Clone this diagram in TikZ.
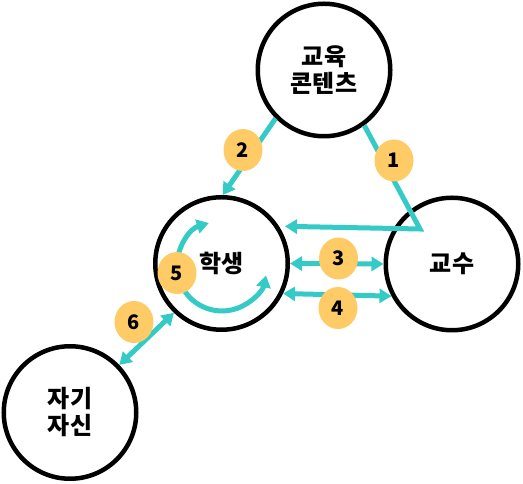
\documentclass[tikz,border=0pt]{standalone}
\usepackage{fontspec}
\setmainfont{Noto Sans CJK KR}
\usetikzlibrary{shapes.geometric, arrows.meta, positioning, calc}
\definecolor{linkteal}{RGB}{52,202,198}
\definecolor{badgeorange}{RGB}{255,203,102}

\begin{document}
\begin{tikzpicture}[x=1bp, y=1bp,
  every node/.style={font=\bfseries\fontsize{24bp}{27bp}\selectfont},
  bubble/.style={draw, circle, line width=4.5bp, minimum size=132.5bp, inner sep=0pt, align=center},
  badge/.style={ellipse, fill=badgeorange, minimum width=39bp, minimum height=42bp, inner sep=0pt, font=\bfseries\fontsize{20bp}{20bp}\selectfont},
  link/.style={draw=linkteal, line width=5bp, line join=miter, -{Triangle[length=12bp, width=14bp]}},
  twoway/.style={link, {Triangle[length=12bp, width=14bp]}-{Triangle[length=12bp, width=14bp]}}]
\useasboundingbox (0,0) rectangle (523,484);

% Circles
\node[bubble] (edu) at (324,414) {교육\\콘텐츠};
\node[bubble] (student) at (221.5,220.5) {학생};
\node[bubble] (prof) at (452,220) {교수};
\node[bubble] (self) at (70,71.5) {자기\\자신};

% Links
\coordinate (bend) at (420,255);
\draw[link, shorten >=6bp] (edu.-54) -- (bend) -- (student.33);
\draw[link] (edu.225) -- (student.89);
\draw[twoway] (student.east) -- (prof.west);
\draw[twoway] (student.-26) -- (prof.208);
\draw[twoway] (student.226) -- (self.44);

% Self loop inside the student
\coordinate (loop) at (222,218);
\draw[link] ($(loop)+(180:45)$) arc[start angle=180, end angle=107, radius=45];
\draw[link] ($(loop)+(200:45)$) arc[start angle=200, end angle=348, radius=45];

% Badges
\node[badge] (b1) at (394,323.5) {1};
\node[badge] (b2) at (243,334) {2};
\node[badge] (b3) at (338.5,225.5) {3};
\node[badge] (b4) at (338,176) {4};
\node[badge] (b5) at (177,211) {5};
\node[badge] (b6) at (134,162) {6};
\end{tikzpicture}
\end{document}
